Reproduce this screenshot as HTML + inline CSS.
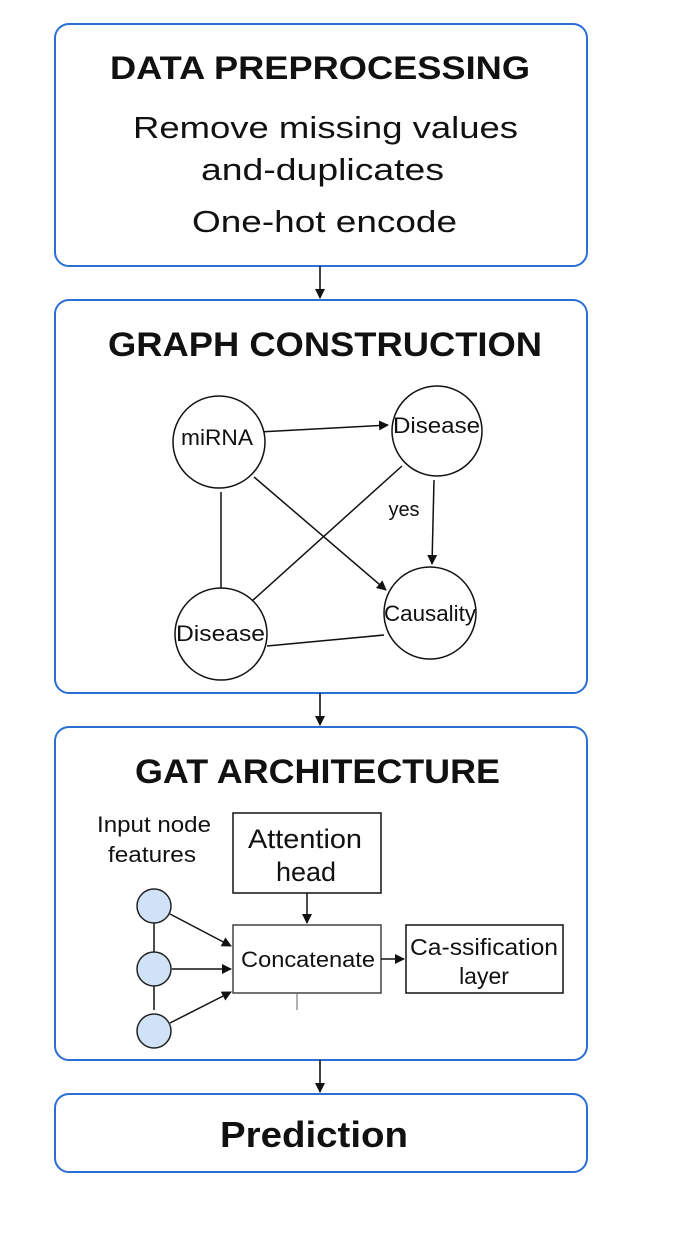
<!DOCTYPE html>
<html><head><meta charset="utf-8"><style>
html,body{margin:0;padding:0;background:#fff;width:685px;height:1248px;overflow:hidden}
svg{display:block}
text{font-family:"Liberation Sans",sans-serif;fill:#111}
</style></head><body>
<svg width="685" height="1248" viewBox="0 0 685 1248" xmlns="http://www.w3.org/2000/svg">
<defs>
<marker id="a" markerWidth="10" markerHeight="10" refX="9" refY="5" orient="auto" markerUnits="userSpaceOnUse">
<path d="M0,0 L10,5 L0,10 z" fill="#111"/></marker>
</defs>
<g fill="none" stroke="#2a6fd4" stroke-width="2">
<rect x="55" y="24" width="532" height="242" rx="14"/>
<rect x="55" y="300" width="532" height="393" rx="14"/>
<rect x="55" y="727" width="532" height="333" rx="14"/>
<rect x="55" y="1094" width="532" height="78" rx="14"/>
</g>
<g stroke="#111" stroke-width="1.6" fill="none">
<line x1="320" y1="266" x2="320" y2="298" marker-end="url(#a)"/>
<line x1="320" y1="693" x2="320" y2="725" marker-end="url(#a)"/>
<line x1="320" y1="1060" x2="320" y2="1092" marker-end="url(#a)"/>
</g>
<text x="110" y="79" font-size="32" font-weight="bold" textLength="420" lengthAdjust="spacingAndGlyphs">DATA PREPROCESSING</text>
<text x="133" y="138" font-size="31" textLength="385" lengthAdjust="spacingAndGlyphs">Remove missing values</text>
<text x="201" y="180" font-size="31" textLength="243" lengthAdjust="spacingAndGlyphs">and-duplicates</text>
<text x="192" y="232" font-size="31" textLength="265" lengthAdjust="spacingAndGlyphs">One-hot encode</text>

<text x="108" y="356" font-size="34" font-weight="bold" textLength="434" lengthAdjust="spacingAndGlyphs">GRAPH CONSTRUCTION</text>
<g stroke="#111" stroke-width="1.5" fill="none">
<line x1="259" y1="432" x2="388" y2="425" marker-end="url(#a)"/>
<line x1="254" y1="477" x2="386" y2="590" marker-end="url(#a)"/>
<line x1="402" y1="466" x2="252" y2="601"/>
<line x1="221" y1="492" x2="221" y2="600"/>
<line x1="434" y1="480" x2="432" y2="564" marker-end="url(#a)"/>
<line x1="267" y1="646" x2="384" y2="635"/>
<circle cx="219" cy="442" r="46" fill="#fff"/>
<circle cx="437" cy="431" r="45" fill="#fff"/>
<circle cx="430" cy="613" r="46" fill="#fff"/>
<circle cx="221" cy="634" r="46" fill="#fff"/>
</g>
<text x="181" y="445" font-size="22" textLength="72" lengthAdjust="spacingAndGlyphs">miRNA</text>
<text x="393" y="433" font-size="22" textLength="87" lengthAdjust="spacingAndGlyphs">Disease</text>
<text x="384" y="621" font-size="22" textLength="92" lengthAdjust="spacingAndGlyphs">Causality</text>
<text x="176" y="641" font-size="22" textLength="89" lengthAdjust="spacingAndGlyphs">Disease</text>
<text x="404" y="516" font-size="20" text-anchor="middle">yes</text>

<text x="135" y="783" font-size="34" font-weight="bold" textLength="365" lengthAdjust="spacingAndGlyphs">GAT ARCHITECTURE</text>
<text x="97" y="832" font-size="22" textLength="114" lengthAdjust="spacingAndGlyphs">Input node</text>
<text x="108" y="862" font-size="22" textLength="88" lengthAdjust="spacingAndGlyphs">features</text>
<g stroke="#111" stroke-width="1.5" fill="none">
<rect x="233" y="813" width="148" height="80"/>
<rect x="233" y="925" width="148" height="68" stroke="#444"/>
<rect x="406" y="925" width="157" height="68"/>
<line x1="307" y1="893" x2="307" y2="923" marker-end="url(#a)"/>
<line x1="381" y1="959" x2="404" y2="959" marker-end="url(#a)"/>
<line x1="297" y1="993" x2="297" y2="1010" stroke="#666" stroke-width="1"/>
<line x1="154" y1="922" x2="154" y2="1010"/>
<line x1="170" y1="914" x2="231" y2="946" marker-end="url(#a)"/>
<line x1="172" y1="969" x2="231" y2="969" marker-end="url(#a)"/>
<line x1="170" y1="1023" x2="231" y2="992" marker-end="url(#a)"/>
<circle cx="154" cy="906" r="17" fill="#cfe2f7" stroke="#222"/>
<circle cx="154" cy="969" r="17" fill="#cfe2f7" stroke="#222"/>
<circle cx="154" cy="1031" r="17" fill="#cfe2f7" stroke="#222"/>
</g>
<text x="248" y="848" font-size="27" textLength="114" lengthAdjust="spacingAndGlyphs">Attention</text>
<text x="306" y="881" font-size="27" text-anchor="middle">head</text>
<text x="241" y="967" font-size="22" textLength="134" lengthAdjust="spacingAndGlyphs">Concatenate</text>
<text x="410" y="955" font-size="23" textLength="148" lengthAdjust="spacingAndGlyphs">Ca-ssification</text>
<text x="484" y="984" font-size="23" text-anchor="middle">layer</text>

<text x="220" y="1147" font-size="36" font-weight="bold" textLength="188" lengthAdjust="spacingAndGlyphs">Prediction</text>
</svg>
</body></html>
